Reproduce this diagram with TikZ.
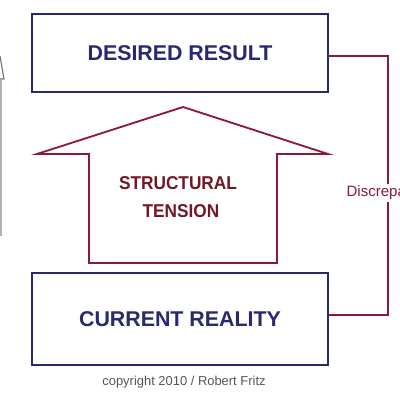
\documentclass[tikz,border=0pt]{standalone}
\usepackage{fontspec}
\setmainfont{Liberation Sans}
\usetikzlibrary{positioning}
\definecolor{boxblue}{RGB}{40,40,115}
\definecolor{tensionred}{RGB}{140,25,55}
\definecolor{tensiontext}{RGB}{115,22,38}
\definecolor{copygrey}{RGB}{85,85,85}

\begin{document}
\begin{tikzpicture}[
    x=0.025cm, y=-0.025cm,
    levelbox/.style={draw=boxblue, line width=1.3pt, minimum width=7.4cm, text=boxblue,
        font=\fontsize{15.2}{18}\selectfont\bfseries},
    tensionlabel/.style={text=tensiontext, xscale=0.93, transform shape,
        font=\fontsize{13.2}{16}\selectfont\bfseries},
    link/.style={draw=tensionred, line width=0.9pt},
    note/.style={text=copygrey, font=\fontsize{9.2}{11}\selectfont},
]

% ============================================================
% Canvas
% ============================================================
\clip (0,0) rectangle (400,400);
\fill[white] (0,0) rectangle (400,400);

% Faint cut-off arrow at the left edge
\draw[black!30, line width=0.8pt] (1,80) -- (1,236);
\draw[black!55, line width=0.8pt] (0,56) -- (4,79) -- (0,79);

% ============================================================
% Desired result and current reality
% ============================================================
\node[levelbox, minimum height=1.95cm] (desired) at (180,53) {DESIRED RESULT};
\node[levelbox, minimum height=2.3cm] (current) at (180,319) {CURRENT REALITY};

% ============================================================
% Structural tension arrow
% ============================================================
\draw[tensionred, line width=1.3pt, line join=miter]
    (89,263) -- (89,154) -- (37,154) -- (183,107) -- (328,154)
    -- (277,154) -- (277,263) -- cycle;
\node[tensionlabel] (structural) at (178,183) {STRUCTURAL};
\node[tensionlabel] (tension) at (181,211) {TENSION};

% ============================================================
% Discrepancy link
% ============================================================
\node[fill=white, inner sep=1pt, text=tensionred, font=\fontsize{10.7}{13}\selectfont]
    (discrepancy) at (388,193) {Discrepancy};
\draw[link] ([yshift=-0.075cm]desired.east) -| (discrepancy);
\draw[link] (discrepancy) |- ([yshift=0.1cm]current.east);

% Copyright line
\node[note] (copyright) at (184,382) {copyright 2010 / Robert Fritz};

\end{tikzpicture}
\end{document}
